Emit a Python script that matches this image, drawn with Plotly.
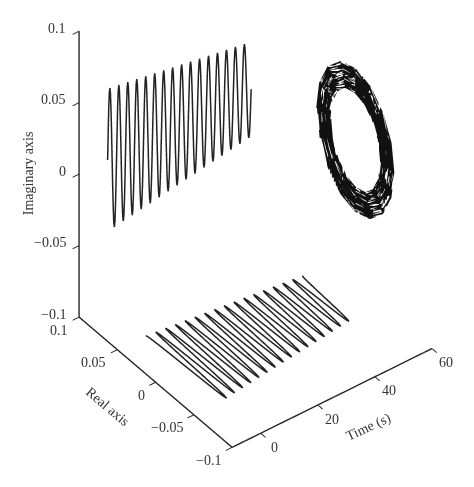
import plotly.graph_objects as go

# one row per period of the oscillation
time_s = [
    0, .20, .39, .59, .79, .98, 1.18, 1.37, 1.57, 1.77, 1.96, 2.16, 2.36, 2.55, 2.75, 2.95,
    3.14, 3.34, 3.53, 3.73, 3.93, 4.12, 4.32, 4.51, 4.71, 4.91, 5.10, 5.30, 5.50, 5.69, 5.89, 6.09,
    6.28, 6.48, 6.67, 6.87, 7.07, 7.26, 7.46, 7.65, 7.85, 8.05, 8.24, 8.44, 8.64, 8.83, 9.03, 9.23,
    9.42, 9.62, 9.81, 10.01, 10.21, 10.40, 10.60, 10.79, 10.99, 11.19, 11.38, 11.58, 11.78, 11.97, 12.17, 12.37,
    12.57, 12.77, 12.96, 13.16, 13.36, 13.55, 13.75, 13.94, 14.14, 14.34, 14.53, 14.73, 14.93, 15.12, 15.32, 15.52,
    15.71, 15.91, 16.10, 16.30, 16.50, 16.69, 16.89, 17.08, 17.28, 17.48, 17.67, 17.87, 18.07, 18.26, 18.46, 18.66,
    18.85, 19.05, 19.24, 19.44, 19.64, 19.83, 20.03, 20.22, 20.42, 20.62, 20.81, 21.01, 21.21, 21.40, 21.60, 21.80,
    21.99, 22.19, 22.38, 22.58, 22.78, 22.97, 23.17, 23.36, 23.56, 23.76, 23.95, 24.15, 24.35, 24.54, 24.74, 24.94,
    25.13, 25.33, 25.52, 25.72, 25.92, 26.11, 26.31, 26.50, 26.70, 26.90, 27.09, 27.29, 27.49, 27.68, 27.88, 28.08,
    28.27, 28.47, 28.66, 28.86, 29.06, 29.25, 29.45, 29.64, 29.84, 30.04, 30.23, 30.43, 30.63, 30.82, 31.02, 31.22,
    31.42, 31.62, 31.81, 32.01, 32.21, 32.40, 32.60, 32.79, 32.99, 33.19, 33.38, 33.58, 33.78, 33.97, 34.17, 34.37,
    34.56, 34.76, 34.95, 35.15, 35.35, 35.54, 35.74, 35.93, 36.13, 36.33, 36.52, 36.72, 36.92, 37.11, 37.31, 37.51,
    37.70, 37.90, 38.09, 38.29, 38.49, 38.68, 38.88, 39.07, 39.27, 39.47, 39.66, 39.86, 40.06, 40.25, 40.45, 40.65,
    40.84, 41.04, 41.23, 41.43, 41.63, 41.82, 42.02, 42.21, 42.41, 42.61, 42.80, 43.00, 43.20, 43.39, 43.59, 43.79,
    43.98, 44.18, 44.37, 44.57, 44.77, 44.96, 45.16, 45.35, 45.55, 45.75, 45.94, 46.14, 46.34, 46.53, 46.73, 46.93,
    47.12, 47.32, 47.51, 47.71, 47.91, 48.10, 48.30, 48.49, 48.69, 48.89, 49.08, 49.28, 49.48, 49.67, 49.87, 50.07,
    50.27,
]
real_part = [
    .0500, .0462, .0354, .0191, 0, -.0190, -.0351, -.0459, -.0495, -.0457, -.0350, -.0189, 0, .0188, .0348, .0455,
    .0489, .0452, .0346, .0187, 0, -.0186, -.0344, -.0450, -.0484, -.0447, -.0342, -.0185, 0, .0184, .0340, .0444,
    .0479, .0443, .0339, .0183, 0, -.0182, -.0337, -.0440, -.0473, -.0437, -.0334, -.0181, 0, .0180, .0333, .0435,
    .0468, .0432, .0331, .0179, 0, -.0178, -.0330, -.0431, -.0463, -.0428, -.0327, -.0177, 0, .0176, .0325, .0425,
    .0458, .0423, .0324, .0175, 0, -.0174, -.0322, -.0420, -.0452, -.0418, -.0320, -.0173, 0, .0172, .0318, .0416,
    .0447, .0413, .0316, .0171, 0, -.0170, -.0314, -.0410, -.0442, -.0408, -.0313, -.0169, 0, .0168, .0310, .0406,
    .0436, .0403, .0308, .0167, 0, -.0166, -.0307, -.0401, -.0431, -.0398, -.0305, -.0165, 0, .0164, .0303, .0395,
    .0426, .0394, .0301, .0163, 0, -.0162, -.0299, -.0391, -.0420, -.0388, -.0297, -.0161, 0, .0160, .0296, .0386,
    .0415, .0383, .0293, .0159, 0, -.0158, -.0292, -.0382, -.0410, -.0379, -.0290, -.0157, 0, .0156, .0288, .0376,
    .0405, .0374, .0286, .0155, 0, -.0154, -.0284, -.0371, -.0399, -.0369, -.0282, -.0153, 0, .0152, .0281, .0367,
    .0394, .0364, .0279, .0151, 0, -.0150, -.0276, -.0361, -.0389, -.0359, -.0275, -.0149, 0, .0148, .0273, .0357,
    .0383, .0354, .0271, .0147, 0, -.0146, -.0269, -.0352, -.0378, -.0349, -.0267, -.0145, 0, .0144, .0265, .0346,
    .0373, .0345, .0264, .0143, 0, -.0142, -.0262, -.0342, -.0368, -.0340, -.0260, -.0141, 0, .0140, .0258, .0337,
    .0362, .0334, .0256, .0139, 0, -.0138, -.0255, -.0333, -.0357, -.0330, -.0252, -.0137, 0, .0136, .0250, .0327,
    .0352, .0325, .0249, .0135, 0, -.0134, -.0247, -.0322, -.0346, -.0320, -.0245, -.0133, 0, .0132, .0243, .0318,
    .0341, .0315, .0241, .0131, 0, -.0129, -.0239, -.0312, -.0336, -.0310, -.0238, -.0129, 0, .0128, .0235, .0308,
    .0330,
]
imag_part = [
    0, .0191, .0354, .0462, .0497, .0459, .0351, .0190, 0, -.0189, -.0350, -.0457, -.0492, -.0455, -.0348, -.0188,
    0, .0187, .0346, .0452, .0487, .0450, .0344, .0186, 0, -.0185, -.0342, -.0447, -.0481, -.0444, -.0340, -.0184,
    0, .0183, .0339, .0443, .0476, .0440, .0337, .0182, 0, -.0181, -.0334, -.0437, -.0471, -.0435, -.0333, -.0180,
    0, .0179, .0331, .0432, .0466, .0431, .0330, .0178, 0, -.0177, -.0327, -.0428, -.0460, -.0425, -.0325, -.0176,
    0, .0175, .0324, .0423, .0455, .0420, .0322, .0174, 0, -.0173, -.0320, -.0418, -.0450, -.0416, -.0318, -.0172,
    0, .0171, .0316, .0413, .0444, .0410, .0314, .0170, 0, -.0169, -.0313, -.0408, -.0439, -.0406, -.0310, -.0168,
    0, .0167, .0308, .0403, .0434, .0401, .0307, .0166, 0, -.0165, -.0305, -.0398, -.0428, -.0395, -.0303, -.0164,
    0, .0163, .0301, .0394, .0423, .0391, .0299, .0162, 0, -.0161, -.0297, -.0388, -.0418, -.0386, -.0296, -.0160,
    0, .0159, .0293, .0383, .0413, .0382, .0292, .0158, 0, -.0157, -.0290, -.0379, -.0407, -.0376, -.0288, -.0156,
    0, .0155, .0286, .0374, .0402, .0371, .0284, .0154, 0, -.0153, -.0282, -.0369, -.0397, -.0367, -.0281, -.0152,
    0, .0151, .0279, .0364, .0391, .0361, .0276, .0150, 0, -.0149, -.0275, -.0359, -.0386, -.0357, -.0273, -.0148,
    0, .0147, .0271, .0354, .0381, .0352, .0269, .0146, 0, -.0145, -.0267, -.0349, -.0375, -.0346, -.0265, -.0144,
    0, .0143, .0264, .0345, .0370, .0342, .0262, .0142, 0, -.0141, -.0260, -.0340, -.0365, -.0337, -.0258, -.0140,
    0, .0139, .0256, .0334, .0360, .0333, .0255, .0138, 0, -.0137, -.0252, -.0330, -.0354, -.0327, -.0250, -.0136,
    0, .0135, .0249, .0325, .0349, .0322, .0247, .0134, 0, -.0133, -.0245, -.0320, -.0344, -.0318, -.0243, -.0132,
    0, .0131, .0241, .0315, .0338, .0312, .0239, .0129, 0, -.0129, -.0238, -.0310, -.0333, -.0308, -.0235, -.0128,
    0,
]
real_ticks = [-0.1, -0.05, 0, 0.05, 0.1]
imag_ticks = [-0.1, -0.05, 0, 0.05, 0.1]
time_ticks = [0, 20, 40, 60]

LINE = "#222222"
TEXT = "#333333"
FONT = "Liberation Serif"


def tick_text(v):
    return str(v).replace("-", "\u2212")


n = len(time_s)
fig = go.Figure()
# same signal projected on the three walls
fig.add_trace(go.Scatter3d(x=[0.1] * n, y=time_s, z=imag_part, mode="lines", line=dict(color=LINE, width=3)))
fig.add_trace(go.Scatter3d(x=real_part, y=time_s, z=[-0.1] * n, mode="lines", line=dict(color=LINE, width=3)))
fig.add_trace(go.Scatter3d(x=real_part, y=[60] * n, z=imag_part, mode="lines", line=dict(color="#111111", width=4)))


def axis(ticks, rng):
    return dict(
        title=dict(text=""),
        range=rng,
        tickvals=ticks,
        showticklabels=False,
        showbackground=False,
        showgrid=False,
        zeroline=False,
        showline=True,
        linecolor=LINE,
        linewidth=3,
        ticks="outside",
        ticklen=8,
        tickwidth=2,
        tickcolor=LINE,
        showspikes=False,
    )


def label(x, y, z, text, dx, dy, anchor="center", angle=0):
    return dict(
        x=x, y=y, z=z, text=text, showarrow=False, xanchor=anchor, yanchor="middle",
        xshift=dx, yshift=dy, textangle=angle, font=dict(family=FONT, size=14, color=TEXT),
    )


notes = []
for v in imag_ticks:
    notes.append(label(0.1, -10, v, tick_text(v), -11, 3, "right"))
for v in real_ticks:
    notes.append(label(v, -10, -0.1, tick_text(v), -9, -13, "right"))
for v in time_ticks:
    notes.append(label(-0.1, v, -0.1, tick_text(v), 14, -14))
notes.append(label(0.1, -10, 0, "Imaginary axis", -51, 1, angle=-90))
notes.append(label(0, -10, -0.1, "Real axis", -48, -24, angle=40))
notes.append(label(-0.1, 36, -0.1, "Time (s)", 6, -45, angle=-25))

fig.update_layout(
    width=474,
    height=487,
    showlegend=False,
    paper_bgcolor="white",
    margin=dict(l=0, r=0, t=0, b=0),
    scene=dict(
        domain=dict(x=[0, 1], y=[0, 1]),
        xaxis=axis(real_ticks, [0.1, -0.1]),
        yaxis=axis(time_ticks, [-10, 60]),
        zaxis=axis(imag_ticks, [-0.1, 0.1]),
        aspectmode="manual",
        aspectratio=dict(x=1.037, y=1.032, z=1.5425),
        camera=dict(
            projection=dict(type="orthographic"),
            eye=dict(x=1.2358, y=-0.9964, z=1.0196),
            center=dict(x=-0.0262, y=-0.0344, z=-0.3324),
        ),
        annotations=notes,
    ),
)

fig.write_html("out.html")
